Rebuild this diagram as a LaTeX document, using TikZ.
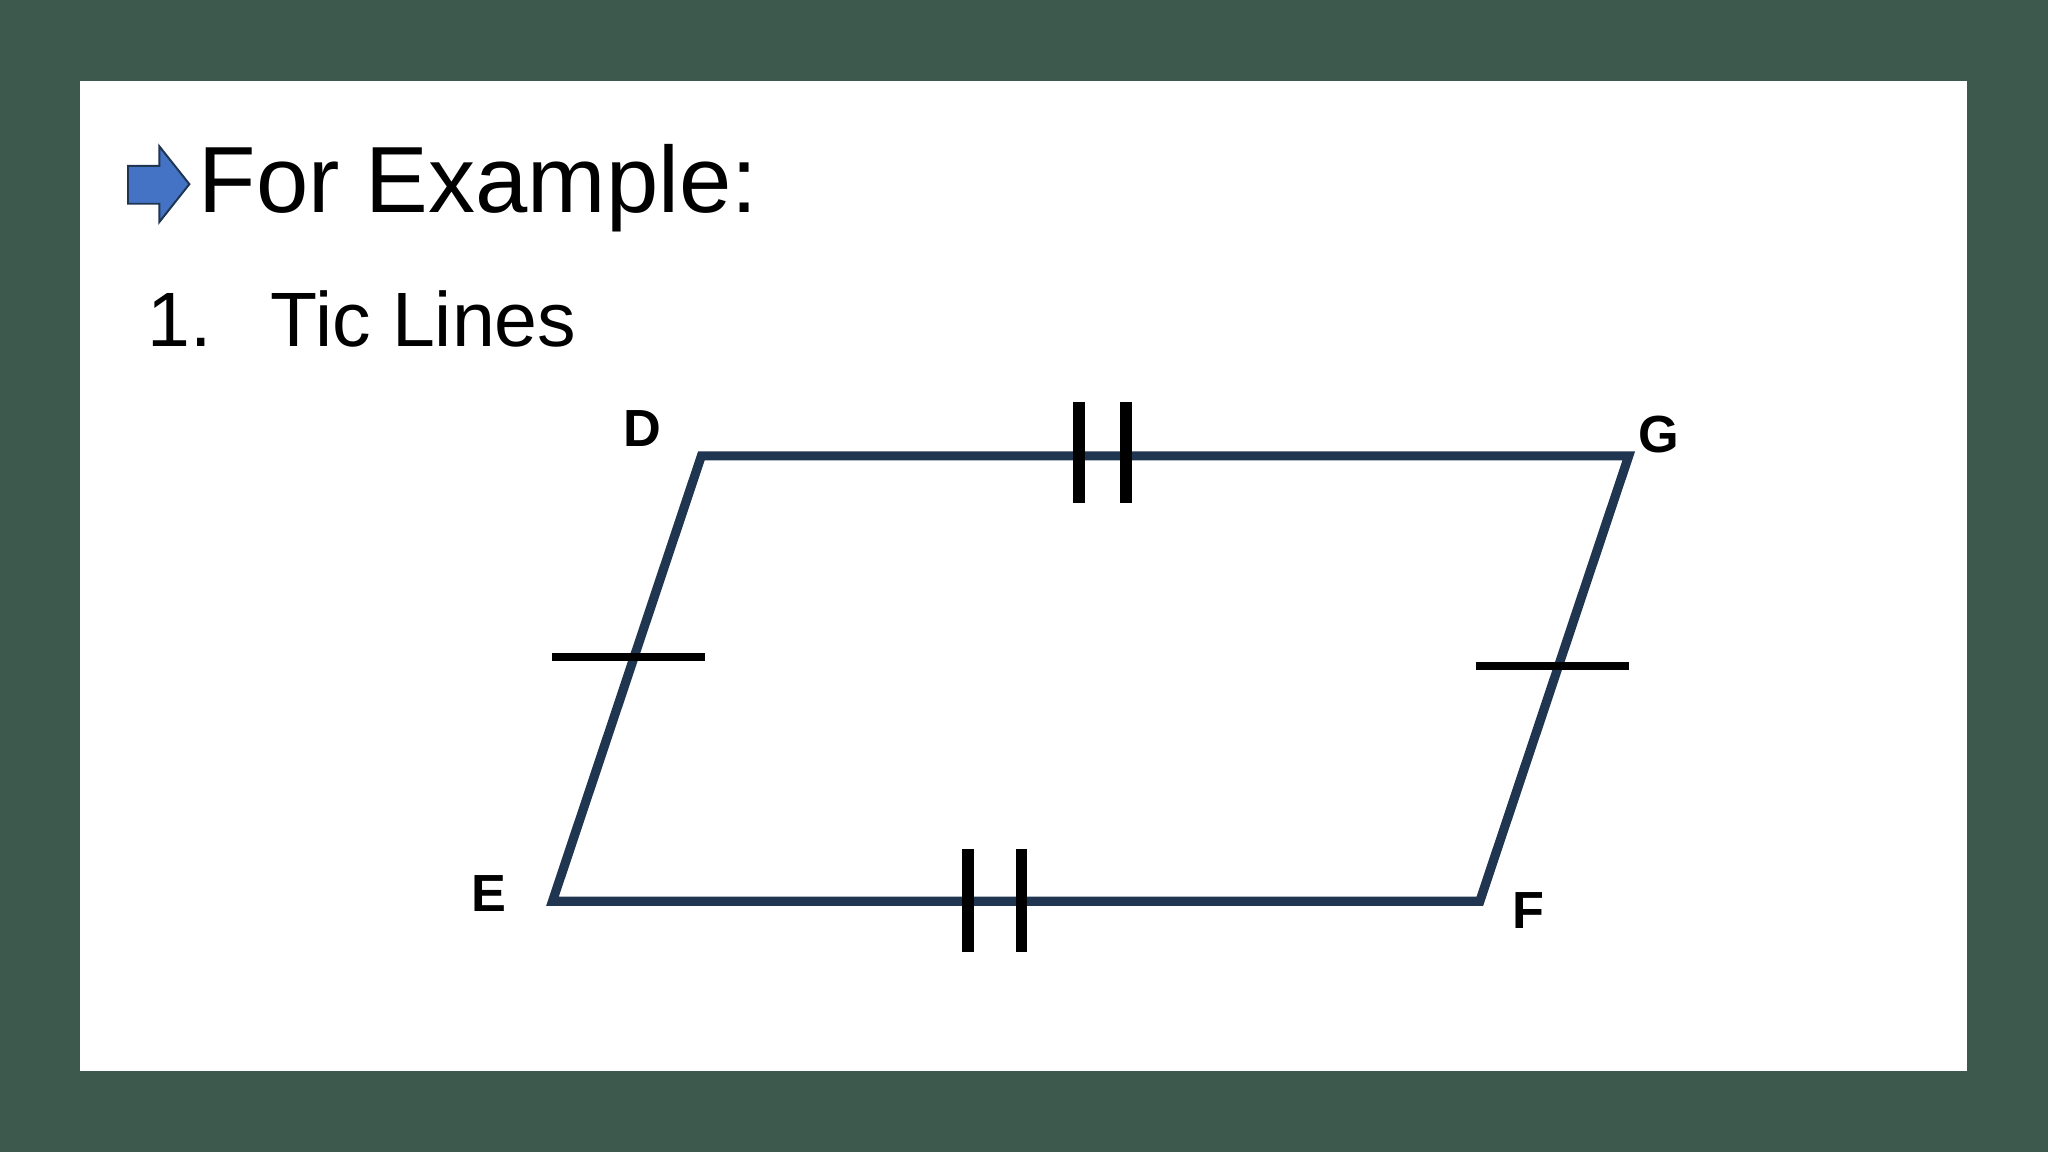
\documentclass[tikz,border=0pt]{standalone}
\usepackage{fontspec}
\setmainfont{Liberation Sans}
\definecolor{bg}{HTML}{3D594D}
\definecolor{edge}{HTML}{1F3550}
\definecolor{arrblue}{HTML}{4472C4}
\begin{document}
\begin{tikzpicture}[x=1pt,y=-1pt,
  side/.style={draw=edge,line width=7pt,line join=miter},
  tic/.style={draw=black,line width=9pt},
  htic/.style={draw=black,line width=6pt},
  lbl/.style={font=\bfseries\fontsize{40}{44}\selectfont,inner sep=0pt}]
\fill[bg] (0,0) rectangle (1568,882);
\useasboundingbox (0,0) rectangle (1568,882);
\fill[white] (61,62) rectangle (1506,820);
\draw[fill=arrblue,draw=edge,line width=1.5pt] (98,127) -- (122,127) -- (122,112) -- (145,141) -- (122,170) -- (122,156) -- (98,156) -- cycle;
\node[anchor=base west,inner sep=0pt,font=\fontsize{72}{86}\selectfont] (title) at (152,163) {For Example:};
\node[anchor=base west,inner sep=0pt,font=\fontsize{59}{70}\selectfont] (item) at (113,265) {1.\hspace{45pt}Tic Lines};
\coordinate (D) at (537,349);
\coordinate (G) at (1247,349);
\coordinate (F) at (1133,690);
\coordinate (E) at (423,690);
\draw[side] (D) -- (G) -- (F) -- (E) -- cycle;
\draw[tic] (826,308) -- (826,385);
\draw[tic] (862,308) -- (862,385);
\draw[tic] (741,650) -- (741,729);
\draw[tic] (782,650) -- (782,729);
\draw[htic] (423,503) -- (540,503);
\draw[htic] (1130,510) -- (1247,510);
\node[lbl] (lD) at (492,328) {D};
\node[lbl] (lG) at (1270,333) {G};
\node[lbl] (lE) at (374,684) {E};
\node[lbl] (lF) at (1170,697) {F};
\end{tikzpicture}
\end{document}
